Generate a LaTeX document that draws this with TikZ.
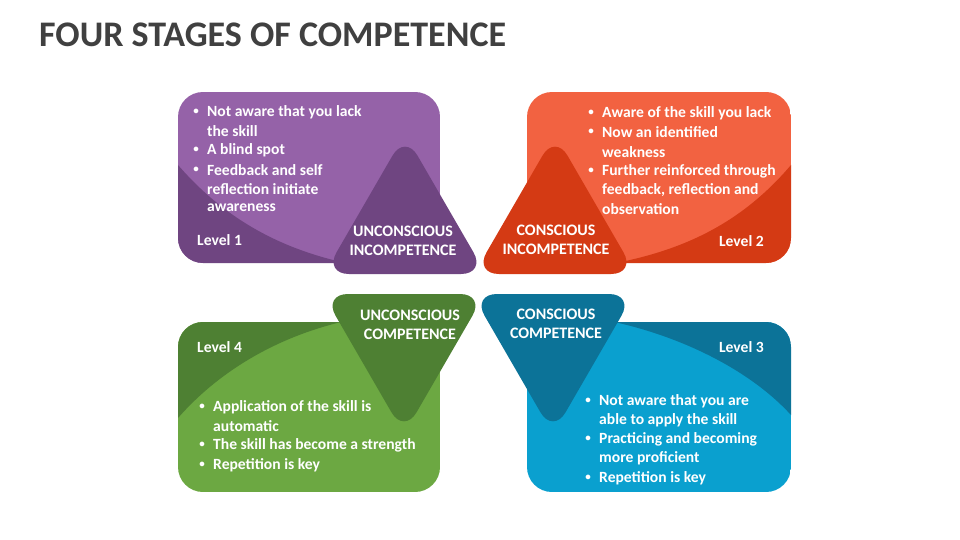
\documentclass[tikz,border=0pt]{standalone}
\usepackage{fontspec}
\setmainfont{Carlito}
\definecolor{pu}{HTML}{9562A8}\definecolor{pud}{HTML}{6F4581}
\definecolor{orl}{HTML}{F26241}\definecolor{ord}{HTML}{D43A14}
\definecolor{gr}{HTML}{6CA842}\definecolor{grd}{HTML}{4E8033}
\definecolor{bl}{HTML}{0AA0CF}\definecolor{bld}{HTML}{0C7398}
\begin{document}
\begin{tikzpicture}[x=1pt,y=-1pt,
  txt/.style={anchor=west,inner sep=0pt,text=white,font=\fontsize{15.6}{17}\selectfont\bfseries},
  bul/.style={inner sep=0pt,text=white,font=\fontsize{11}{12}\selectfont\bfseries},
  lab/.style={inner sep=0pt,text=white,align=center,font=\fontsize{16}{19.5}\selectfont\bfseries},
  tri/.style={rounded corners=25pt}]
\useasboundingbox (0,0) rectangle (960,540);
\fill[white] (0,0) rectangle (960,540);
\node[anchor=west,inner sep=0pt,text=black!75,font=\fontsize{36}{40}\selectfont\bfseries] (title) at (39,35) {FOUR STAGES OF COMPETENCE};
% TL
\begin{scope}
\clip[rounded corners=25pt] (178,92) rectangle (440,263);
\fill[pu] (178,92) rectangle (440,263);
\fill[pud] (178,165) .. controls (230,225) and (290,252) .. (355,265) -- (178,265) -- cycle;
\end{scope}
\fill[pud,tri] (405,134) -- (486,274) -- (324,274) -- cycle;
% TR
\begin{scope}
\clip[rounded corners=25pt] (527,92) rectangle (791,263);
\fill[orl] (527,92) rectangle (791,263);
\fill[ord] (791,165) .. controls (740,225) and (680,252) .. (605,265) -- (791,265) -- cycle;
\end{scope}
\fill[ord,tri] (555,134) -- (636,274) -- (474,274) -- cycle;
% BL
\begin{scope}
\clip[rounded corners=25pt] (178,322) rectangle (440,492);
\fill[gr] (178,322) rectangle (440,492);
\fill[grd] (178,418) .. controls (220,370) and (280,335) .. (350,320) -- (178,320) -- cycle;
\end{scope}
\fill[grd,tri] (323,294) -- (485,294) -- (404,434) -- cycle;
% BR
\begin{scope}
\clip[rounded corners=25pt] (527,322) rectangle (791,492);
\fill[bl] (527,322) rectangle (791,492);
\fill[bld] (791,415) .. controls (750,370) and (680,335) .. (605,320) -- (791,320) -- cycle;
\end{scope}
\fill[bld,tri] (472,294) -- (634,294) -- (553,434) -- cycle;
% labels
\node[lab] (l1) at (403,241) {UNCONSCIOUS\\INCOMPETENCE};
\node[lab] (l2) at (556,240) {CONSCIOUS\\INCOMPETENCE};
\node[lab] (l4) at (410,325) {UNCONSCIOUS\\COMPETENCE};
\node[lab] (l3) at (556,324) {CONSCIOUS\\COMPETENCE};
\node[txt] (v1) at (197,240) {Level 1};
\node[txt,anchor=east] (v2) at (764,241) {Level 2};
\node[txt] (v4) at (197,347) {Level 4};
\node[txt,anchor=east] (v3) at (764,347) {Level 3};
% TL text
\foreach \y in {112,150,170} \node[bul] at (196,\y) {•};
\node[txt] (a1) at (207,112) {Not aware that you lack};
\node[txt] (a2) at (207,131) {the skill};
\node[txt] (a3) at (207,150) {A blind spot};
\node[txt] (a4) at (207,170) {Feedback and self};
\node[txt] (a5) at (207,189) {reflection initiate};
\node[txt] (a6) at (207,208) {awareness};
% TR text
\foreach \y in {113,132,171} \node[bul] at (591,\y) {•};
\node[txt] (b1) at (602,113) {Aware of the skill you lack};
\node[txt] (b2) at (602,132) {Now an identified};
\node[txt] (b3) at (602,152) {weakness};
\node[txt] (b4) at (602,171) {Further reinforced through};
\node[txt] (b5) at (602,190) {feedback, reflection and};
\node[txt] (b6) at (602,209) {observation};
% BL text
\foreach \y in {407,445,465} \node[bul] at (202,\y) {•};
\node[txt] (c1) at (213,407) {Application of the skill is};
\node[txt] (c2) at (213,426) {automatic};
\node[txt] (c3) at (213,445) {The skill has become a strength};
\node[txt] (c4) at (213,465) {Repetition is key};
% BR text
\foreach \y in {401,439,478} \node[bul] at (588,\y) {•};
\node[txt] (d1) at (599,401) {Not aware that you are};
\node[txt] (d2) at (599,420) {able to apply the skill};
\node[txt] (d3) at (599,439) {Practicing and becoming};
\node[txt] (d4) at (599,458) {more proficient};
\node[txt] (d5) at (599,478) {Repetition is key};
\end{tikzpicture}
\end{document}
